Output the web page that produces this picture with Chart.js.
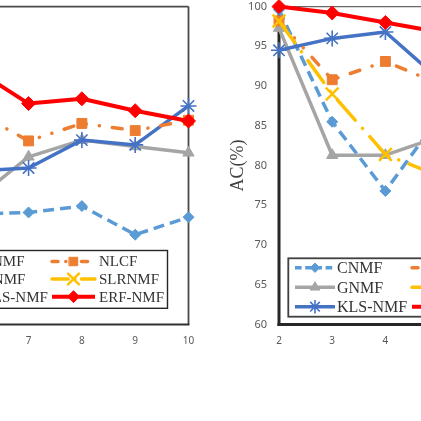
<!DOCTYPE html>
<html><head><meta charset="utf-8">
<script src="https://cdn.jsdelivr.net/npm/chart.js@4.4.1/dist/chart.umd.min.js"></script>
<style>
html,body{margin:0;padding:0;width:421px;height:421px;overflow:hidden;background:#fff;position:relative}
canvas{position:absolute;top:0}
#c1{left:-300px}
#c2{left:220px}
</style></head><body>
<canvas id="c1" width="500" height="421"></canvas>
<canvas id="c2" width="500" height="421"></canvas>
<script>
// ---------- DATA ----------
const categories = ['2','3','4','5','6','7','8','9','10'];
const seriesNames = ['CNMF','GNMF','KLS-NMF','NLCF','SLRNMF','ERF-NMF'];
const yTicks = [60,65,70,75,80,85,90,95,100];

// left panel (only k = 6..10 is inside the picture)
const leftCNMF   = [null,null,null,null,73.9,74.1,74.9,71.3,73.5];
const leftGNMF   = [null,null,null,null,75.7,81.1,83.2,82.4,81.6];
const leftKLS    = [null,null,null,null,79.3,79.7,83.2,82.6,87.5];
const leftNLCF   = [null,null,null,null,86.8,83.1,85.3,84.4,85.7];
const leftSLRNMF = [null,null,null,null,null,null,null,null,null];
const leftERF    = [null,null,null,null,92.1,87.8,88.4,86.9,85.6];

// right panel AC(%) (only k = 2..5 is inside the picture)
const acCNMF   = [99.6,85.5,76.8,86.0,null,null,null,null,null];
const acGNMF   = [97.3,81.3,81.3,83.6,null,null,null,null,null];
const acKLS    = [94.5,96.0,96.8,90.9,null,null,null,null,null];
const acNLCF   = [98.2,90.8,93.1,90.3,null,null,null,null,null];
const acSLRNMF = [98.2,89.0,81.4,78.7,null,null,null,null,null];
const acERF    = [100,99.2,98.0,96.8,null,null,null,null,null];

// ---------- STYLES ----------
const styles = [
  {color:'#5B9BD5', width:3.5, dash:[11,6], cap:'butt', point:'rectRot', r:5.5, pbw:1},
  {color:'#A5A5A5', width:3.5, dash:[], cap:'butt', point:'triangle', r:6.5, pbw:1},
  {color:'#4472C4', width:3.5, dash:[], cap:'butt', point:'star', r:8, pbw:1.6},
  {color:'#ED7D31', width:3.5, dash:[10,13,0.1,13,0.1,13], cap:'round', point:'rect', r:7, pbw:1},
  {color:'#FFC000', width:3.5, dash:[27,11,0.1,11], cap:'round', point:'crossRot', r:9, pbw:2.5},
  {color:'#FF0000', width:4, dash:[], cap:'butt', point:'rectRot', r:7, pbw:1}
];

function makeDatasets(values){
  return seriesNames.map((name,i)=>{
    const s = styles[i];
    return {
      label:name, data:values[i],
      borderColor:s.color, backgroundColor:s.color, borderWidth:s.width,
      borderDash:s.dash, borderCapStyle:s.cap, borderJoinStyle:'round',
      pointStyle:s.point, pointRadius:s.r, pointBorderWidth:s.pbw,
      pointBackgroundColor:s.color, pointBorderColor:s.color,
      tension:0, fill:false, clip:false, order:5-i
    };
  });
}

// ---------- PLUGINS ----------
const framePlugin = {
  id:'frame',
  beforeDatasetsDraw(chart, args, o){
    const {left,right,top,bottom} = chart.chartArea;
    const ctx = chart.ctx;
    ctx.save();
    ctx.setLineDash([]);
    const side=(s,x1,y1,x2,y2)=>{ if(!s) return; ctx.beginPath(); ctx.lineWidth=s.w; ctx.strokeStyle=s.c; ctx.moveTo(x1,y1); ctx.lineTo(x2,y2); ctx.stroke(); };
    side(o.top,left,top,right,top);
    side(o.right,right,top,right,bottom);
    side(o.bottom,left-(o.left?o.left.w/2:0),bottom,right+(o.right?o.right.w/2:0),bottom);
    side(o.left,left,top-(o.top?o.top.w/2:0),left,bottom+(o.bottom?o.bottom.w/2:0));
    ctx.restore();
  }
};

const boxLegend = {
  id:'boxLegend',
  afterDraw(chart, args, o){
    const ctx = chart.ctx;
    ctx.save();
    ctx.setLineDash([]);
    ctx.fillStyle='#fff';
    ctx.fillRect(o.left,o.top,o.right-o.left,o.bottom-o.top);
    ctx.lineWidth=o.borderWidth; ctx.strokeStyle=o.borderColor;
    ctx.strokeRect(o.left,o.top,o.right-o.left,o.bottom-o.top);
    const dp = Chart.helpers.drawPoint;
    chart.data.datasets.forEach((ds,i)=>{
      const col=Math.floor(i/3), row=i%3;
      const sx=o.cols[col].sampleX, tx=o.cols[col].textX, y=o.rows[row];
      ctx.save();
      ctx.beginPath();
      ctx.lineWidth=ds.borderWidth; ctx.strokeStyle=ds.borderColor;
      ctx.lineCap=ds.borderCapStyle;
      ctx.setLineDash(ds.borderDash.length? ds.borderDash.map(v=>v*0.6):[]);
      ctx.moveTo(sx,y); ctx.lineTo(sx+o.sampleLen,y); ctx.stroke();
      ctx.setLineDash([]);
      ctx.fillStyle=ds.pointBackgroundColor; ctx.strokeStyle=ds.pointBorderColor;
      ctx.lineWidth=ds.pointBorderWidth;
      dp(ctx,{pointStyle:ds.pointStyle,radius:ds.pointRadius*0.85,rotation:0,borderWidth:ds.pointBorderWidth},sx+o.sampleLen/2,y);
      ctx.restore();
      ctx.fillStyle=o.color; ctx.font=o.font; ctx.textBaseline='middle'; ctx.textAlign='left';
      ctx.fillText(ds.label,tx,y+1);
    });
    ctx.restore();
  }
};

function zeroPad(s){ s.paddingTop=0; s.paddingBottom=0; s.paddingLeft=0; s.paddingRight=0; }

function makeOptions(cfg){
  return {
    responsive:false, animation:false, events:[],
    layout:{autoPadding:false, padding:cfg.padding},
    plugins:{legend:{display:false}, tooltip:{enabled:false}, frame:cfg.frame, boxLegend:cfg.legend},
    scales:{
      x:{type:'category', offset:false,
         grid:{display:false, drawTicks:false}, border:{display:false},
         ticks:{font:{family:'Noto Sans', size:10}, color:'#595959', padding:10.5, autoSkip:false, maxRotation:0},
         afterFit:s=>{s.height=30; zeroPad(s);}},
      y:{type:'linear', min:60, max:100,
         grid:{display:false, drawTicks:false}, border:{display:false},
         afterBuildTicks:s=>{s.ticks=yTicks.map(v=>({value:v}));},
         ticks:{font:{family:'Noto Sans', size:11}, color:'#595959', padding:12},
         title:cfg.yTitle,
         afterFit:s=>{s.width=cfg.yWidth; zeroPad(s);}}
    }
  };
}

// left panel
new Chart(document.getElementById('c1'),{
  type:'line',
  data:{labels:categories, datasets:makeDatasets([leftCNMF,leftGNMF,leftKLS,leftNLCF,leftSLRNMF,leftERF])},
  options:makeOptions({
    padding:{left:0,right:11.5,top:6.6,bottom:66.5},
    yWidth:62,
    yTitle:{display:false},
    frame:{top:{w:1.8,c:'#4a4a4a'},right:{w:1.8,c:'#4a4a4a'},bottom:{w:2,c:'#303030'},left:{w:1.8,c:'#4a4a4a'}},
    legend:{left:150,right:467.5,top:250.5,bottom:308.3,borderWidth:1.4,borderColor:'#262626',
      cols:[{sampleX:235,textX:282},{sampleX:352,textX:399}],sampleLen:43,rows:[261.5,279,296.7],
      font:'15px "Liberation Serif"',color:'#333333'}
  }),
  plugins:[framePlugin, boxLegend]
});

// right panel
new Chart(document.getElementById('c2'),{
  type:'line',
  data:{labels:categories, datasets:makeDatasets([acCNMF,acGNMF,acKLS,acNLCF,acSLRNMF,acERF])},
  options:makeOptions({
    padding:{left:0,right:15.4,top:6.6,bottom:66.5},
    yWidth:59,
    yTitle:{display:true, text:'AC(%)', color:'#404040', font:{family:'Liberation Serif', size:18}, padding:{top:7.7,bottom:0}},
    frame:{top:{w:1.4,c:'#666666'},right:{w:1.4,c:'#666666'},bottom:{w:3,c:'#262626'},left:{w:3,c:'#262626'}},
    legend:{left:68.3,right:700,top:258.3,bottom:316.7,borderWidth:1.8,borderColor:'#404040',
      cols:[{sampleX:75,textX:117},{sampleX:192,textX:234}],sampleLen:40,rows:[267.7,287.3,306.7],
      font:'16px "Liberation Serif"',color:'#333333'}
  }),
  plugins:[framePlugin, boxLegend]
});
</script>
</body></html>
